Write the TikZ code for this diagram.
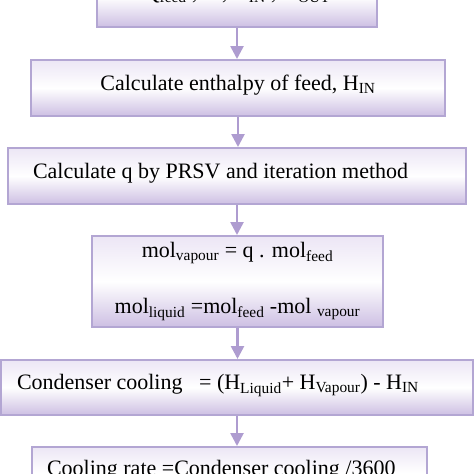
\documentclass[tikz,border=0pt]{standalone}
\usepackage{tikz}
\usepackage{xcolor}
\usepackage{fontspec}
\setmainfont{Liberation Serif}
\usetikzlibrary{arrows.meta}

\definecolor{boxline}{HTML}{B3A6D3}
\definecolor{boxtop}{HTML}{ECE6F5}
\definecolor{boxbottom}{HTML}{CDBFE3}
\definecolor{flowarrow}{HTML}{AE9CD0}

\begin{document}
\begin{tikzpicture}[x=1pt, y=-1pt,
    stepbox/.style={rectangle, draw=boxline, line width=2pt, inner ysep=0pt,
      top color=boxtop, bottom color=boxbottom, middle color=white,
      font=\fontsize{22}{26}\selectfont},
    oneline/.style={text height=13.5pt, text depth=9.5pt},
    flow/.style={draw=flowarrow, line width=2.6pt, -{Triangle[width=13pt,length=13pt]}}]
          \useasboundingbox (0,0) rectangle (474,474);
          \clip (0,0) rectangle (474,474);

          \node[stepbox, oneline, minimum height=60pt, inner xsep=10pt, text width=260pt, align=flush center] (input) at (237,-3)
            {Q\textsubscript{feed} , T , H\textsubscript{IN} , H\textsubscript{OUT}};
          \node[stepbox, oneline, minimum height=56pt, inner xsep=20pt, text width=374pt, align=flush center] (enthalpy) at (238,88)
            {Calculate enthalpy of feed, H\textsubscript{IN}};
          \node[stepbox, oneline, minimum height=56pt, inner xsep=25pt, text width=408pt, align=flush left] (flash) at (237,176)
            {Calculate q by PRSV and iteration method};
          \node[stepbox, minimum height=91pt, inner xsep=10pt, text width=271pt, align=flush center] (moles) at (237.5,281.5)
            {mol\textsubscript{vapour} = q . mol\textsubscript{feed}\\[30pt]
             mol\textsubscript{liquid} =mol\textsubscript{feed} -mol \textsubscript{vapour}};
          \node[stepbox, oneline, minimum height=55pt, inner xsep=16pt, text width=440pt, align=flush left] (cooling) at (237,387.5)
            {Condenser cooling\ \ \ = (H\textsubscript{Liquid}+ H\textsubscript{Vapour}) - H\textsubscript{IN}};
          \node[stepbox, oneline, minimum height=52pt, inner xsep=15pt, text width=365pt, align=flush left] (rate) at (229.5,473)
            {Cooling rate =Condenser cooling /3600};

          \draw[flow] (input.south) -- (input.south |- enthalpy.north);
          \draw[flow] (enthalpy.south) -- (enthalpy.south |- flash.north);
          \draw[flow] (flash.south) -- (flash.south |- moles.north);
          \draw[flow] (moles.south) -- (moles.south |- cooling.north);
          \draw[flow] (cooling.south) -- (cooling.south |- rate.north);
        \end{tikzpicture}
\end{document}
